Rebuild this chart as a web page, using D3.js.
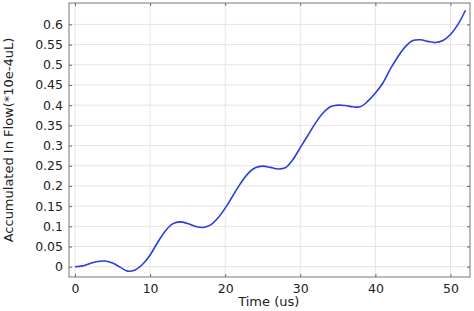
<!DOCTYPE html>
<html>
<head>
<meta charset="utf-8">
<script src="https://cdn.jsdelivr.net/npm/d3@7"></script>
<style>
  body { margin: 0; background: #fff; }
  text { font-family: "DejaVu Sans", sans-serif; fill: #222; }
</style>
</head>
<body>
<div id="chart"></div>
<script>
// accumulated inflow vs time
const times = [0, 1, 2, 3, 4, 5, 6, 7, 8, 9, 10, 11, 12, 13, 14, 15, 16, 17, 18, 19, 20,
  21, 22, 23, 24, 25, 26, 27, 28, 29, 30, 31, 32, 33, 34, 35, 36, 37, 38, 39, 40,
  41, 42, 43, 44, 45, 46, 47, 48, 49, 50, 51, 52];
const flow = [0, 0.002, 0.008, 0.013, 0.014, 0.009, -0.001, -0.011, -0.008, 0.006, 0.029,
  0.06, 0.088, 0.106, 0.111, 0.107, 0.1, 0.097, 0.103, 0.12, 0.145,
  0.175, 0.205, 0.23, 0.245, 0.249, 0.246, 0.242, 0.245, 0.265, 0.295,
  0.325, 0.355, 0.38, 0.396, 0.4, 0.399, 0.396, 0.396, 0.41, 0.43,
  0.455, 0.49, 0.52, 0.545, 0.56, 0.562, 0.558, 0.555, 0.56, 0.575, 0.6, 0.635];
const xTicks = [0, 10, 20, 30, 40, 50];
const yTicks = [0, 0.05, 0.1, 0.15, 0.2, 0.25, 0.3, 0.35, 0.4, 0.45, 0.5, 0.55, 0.6];

const W = 474, H = 311;
const margin = {top: 3, right: 4, bottom: 34, left: 69};
const width = W - margin.left - margin.right;
const height = H - margin.top - margin.bottom;

const svg = d3.select('#chart').append('svg')
    .attr('width', W)
    .attr('height', H);
const g = svg.append('g')
    .attr('transform', `translate(${margin.left},${margin.top})`);

const x = d3.scaleLinear().domain([-0.8, 52.6]).range([0, width]);
const y = d3.scaleLinear().domain([-0.0255, 0.653]).range([height, 0]);

// grid
g.append('g').selectAll('line').data(xTicks).enter().append('line')
    .attr('x1', d => x(d)).attr('x2', d => x(d))
    .attr('y1', 0).attr('y2', height)
    .attr('stroke', '#e4e4e4').attr('stroke-width', 1);
g.append('g').selectAll('line').data(yTicks).enter().append('line')
    .attr('x1', 0).attr('x2', width)
    .attr('y1', d => y(d)).attr('y2', d => y(d))
    .attr('stroke', '#e4e4e4').attr('stroke-width', 1);

// axes with inward ticks on all sides
const fmt = d => d3.format('')(+d.toFixed(2));
g.append('g').attr('transform', `translate(0,${height})`)
    .call(d3.axisBottom(x).tickValues(xTicks).tickSizeInner(-3).tickSizeOuter(0).tickPadding(7).tickFormat(fmt))
    .call(a => a.select('.domain').remove());
g.append('g')
    .call(d3.axisLeft(y).tickValues(yTicks).tickSizeInner(-3).tickSizeOuter(0).tickPadding(6).tickFormat(fmt))
    .call(a => a.select('.domain').remove());
g.append('g')
    .call(d3.axisTop(x).tickValues(xTicks).tickSizeInner(-3).tickSizeOuter(0).tickFormat(''))
    .call(a => a.select('.domain').remove());
g.append('g').attr('transform', `translate(${width},0)`)
    .call(d3.axisRight(y).tickValues(yTicks).tickSizeInner(-3).tickSizeOuter(0).tickFormat(''))
    .call(a => a.select('.domain').remove());
g.selectAll('.tick line').attr('stroke', '#666');
g.selectAll('.tick text').attr('font-size', 12.5).attr('fill', '#222')
    .style('font-family', '"DejaVu Sans", sans-serif');

// frame
g.append('rect')
    .attr('width', width).attr('height', height)
    .attr('fill', 'none').attr('stroke', '#777').attr('stroke-width', 1);

// curve
const line = d3.line()
    .x((d, i) => x(times[i]))
    .y(d => y(d))
    .curve(d3.curveCatmullRom);
g.append('path')
    .datum(flow)
    .attr('d', line)
    .attr('fill', 'none')
    .attr('stroke', '#2a3fd8')
    .attr('stroke-width', 1.6);

// titles
svg.append('text')
    .attr('x', margin.left + x(25.8)).attr('y', 306)
    .attr('text-anchor', 'middle').attr('font-size', 13)
    .text('Time (us)');
svg.append('text')
    .attr('transform', `translate(13,140) rotate(-90)`)
    .attr('text-anchor', 'middle').attr('font-size', 13)
    .text('Accumulated In Flow(*10e-4uL)');
</script>
</body>
</html>
